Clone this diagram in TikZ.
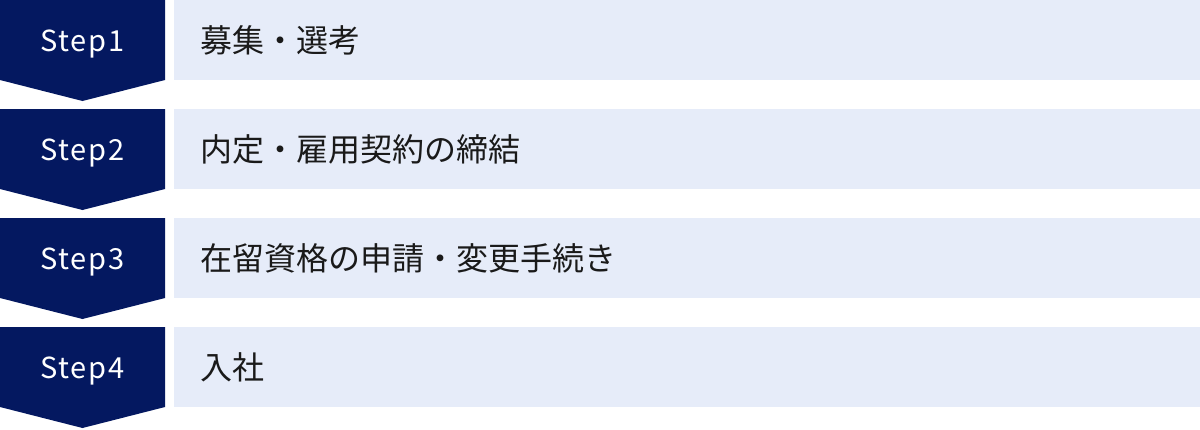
\documentclass[tikz,border=0pt]{standalone}
\usepackage{fontspec}
\newfontfamily\jpfont{Noto Sans CJK JP}
\newfontfamily\tagfont[LetterSpace=6]{Noto Sans CJK JP}
\definecolor{stepnavy}{RGB}{4,24,96}
\definecolor{barblue}{RGB}{230,236,249}
\definecolor{inkgray}{RGB}{26,26,26}
\begin{document}
\begin{tikzpicture}[x=1pt,y=-1pt,
  steptag/.style={fill=stepnavy},
  stepbar/.style={fill=barblue},
  steplabel/.style={text=white,font=\tagfont\fontsize{29}{34}\selectfont,inner sep=0pt},
  stepitem/.style={anchor=west,text=inkgray,font=\jpfont\fontsize{32}{38}\selectfont,inner sep=0pt}]
\useasboundingbox (0,0) rectangle (1200,429);
% Step1
\fill[steptag] (0,0)--(165,0)--(165,80)--(82.5,101)--(0,80)--cycle;
\fill[stepbar] (174,0) rectangle (1200,80);
\node[steplabel] (s1) at (82.5,44) {Step1};
\node[stepitem] (t1) at (200,40) {募集・選考};
% Step2
\fill[steptag] (0,109)--(165,109)--(165,189)--(82.5,210)--(0,189)--cycle;
\fill[stepbar] (174,109) rectangle (1200,189);
\node[steplabel] (s2) at (82.5,153) {Step2};
\node[stepitem] (t2) at (200,149) {内定・雇用契約の締結};
% Step3
\fill[steptag] (0,218)--(165,218)--(165,298)--(82.5,319)--(0,298)--cycle;
\fill[stepbar] (174,218) rectangle (1200,298);
\node[steplabel] (s3) at (82.5,262) {Step3};
\node[stepitem] (t3) at (200,258) {在留資格の申請・変更手続き};
% Step4
\fill[steptag] (0,327)--(165,327)--(165,407)--(82.5,428)--(0,407)--cycle;
\fill[stepbar] (174,327) rectangle (1200,407);
\node[steplabel] (s4) at (82.5,371) {Step4};
\node[stepitem] (t4) at (200,367) {入社};
\end{tikzpicture}
\end{document}
